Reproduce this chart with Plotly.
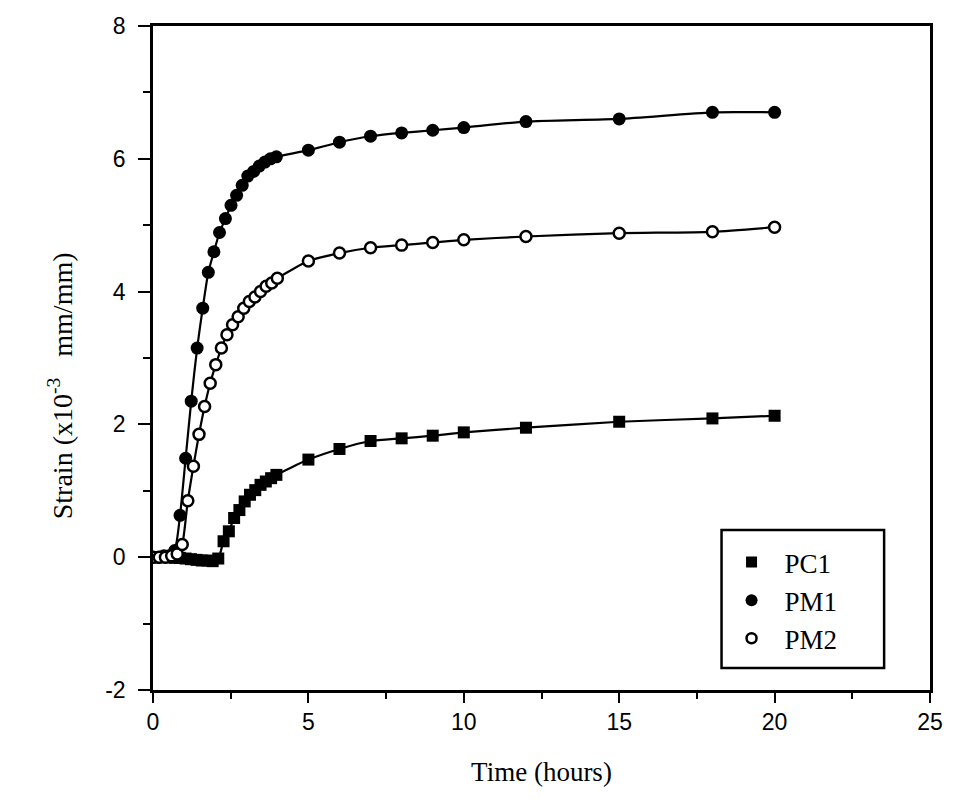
import plotly.graph_objects as go

# ---- data ----
pc1_t = [0, 0.17, 0.35, 0.52, 0.7, 0.87, 1.05, 1.22, 1.4, 1.57, 1.75, 1.92,
         2.1, 2.27, 2.44, 2.61, 2.78, 2.95, 3.12, 3.29, 3.46, 3.63, 3.8, 3.97,
         5, 6, 7, 8, 9, 10, 12, 15, 18, 20]
pc1_y = [0, 0.0, 0.0, 0.0, -0.01, -0.01, -0.02, -0.03, -0.04, -0.05, -0.05, -0.06,
         -0.02, 0.24, 0.39, 0.59, 0.71, 0.84, 0.94, 1.01, 1.09, 1.14, 1.19, 1.24,
         1.47, 1.63, 1.75, 1.79, 1.83, 1.88, 1.95, 2.04, 2.09, 2.13]

pm1_t = [0, 0.17, 0.35, 0.52, 0.7,
         0.87, 1.05, 1.23, 1.42, 1.6, 1.78, 1.96, 2.14, 2.33, 2.51, 2.69, 2.87,
         3.05, 3.24, 3.42, 3.6, 3.78, 3.97,
         5, 6, 7, 8, 9, 10, 12, 15, 18, 20]
pm1_y = [0, 0.0, 0.02, 0.02, 0.1,
         0.63, 1.49, 2.35, 3.15, 3.75, 4.29, 4.6, 4.89, 5.1, 5.3, 5.45, 5.6,
         5.74, 5.81, 5.89, 5.95, 6.0, 6.03,
         6.13, 6.25, 6.34, 6.39, 6.43, 6.47, 6.56, 6.6, 6.7, 6.7]

pm2_t = [0, 0.2, 0.4, 0.6, 0.78,
         0.94, 1.12, 1.3, 1.48, 1.66, 1.84, 2.02, 2.2, 2.38, 2.56, 2.74, 2.92,
         3.1, 3.28, 3.46, 3.64, 3.82, 4.0,
         5, 6, 7, 8, 9, 10, 12, 15, 18, 20]
pm2_y = [0, 0.0, 0.0, 0.02, 0.05,
         0.19, 0.85, 1.37, 1.85, 2.27, 2.62, 2.9, 3.15, 3.35, 3.5, 3.62, 3.75,
         3.85, 3.92, 4.0, 4.08, 4.13, 4.2,
         4.46, 4.58, 4.66, 4.7, 4.74, 4.78, 4.83, 4.88, 4.9, 4.97]

series_names = ["PC1", "PM1", "PM2"]
x_ticks = [0, 5, 10, 15, 20, 25]
x_tick_text = ["0", "5", "10", "15", "20", "25"]
y_ticks = [-2, 0, 2, 4, 6, 8]
y_tick_text = ["-2", "0", "2", "4", "6", "8"]

fig = go.Figure()

line_style = dict(color="black", width=2.2, shape="spline", smoothing=0.6)

fig.add_trace(go.Scatter(x=pc1_t, y=pc1_y, mode="lines+markers", line=line_style,
                         marker=dict(symbol="square", size=12, color="black"),
                         showlegend=False))
fig.add_trace(go.Scatter(x=pm1_t, y=pm1_y, mode="lines+markers", line=line_style,
                         marker=dict(symbol="circle", size=13, color="black"),
                         showlegend=False))
fig.add_trace(go.Scatter(x=pm2_t, y=pm2_y, mode="lines+markers", line=line_style,
                         marker=dict(symbol="circle", size=11, color="white",
                                     line=dict(color="black", width=2.5)),
                         showlegend=False))

# legend entries (no lines)
leg_markers = [dict(symbol="square", size=11, color="black"),
               dict(symbol="circle", size=12, color="black"),
               dict(symbol="circle", size=10, color="white", line=dict(color="black", width=2.5))]
for name, mk in zip(series_names, leg_markers):
    fig.add_trace(go.Scatter(x=[None], y=[None], mode="markers", name=name, marker=mk))

axis_common = dict(
    showline=True, linecolor="black", linewidth=2.5, mirror=True,
    ticks="outside", tickcolor="black", tickwidth=2,
    showgrid=False, zeroline=False,
    tickfont=dict(family="Liberation Sans, Arial", size=23, color="black"),
)

fig.update_xaxes(range=[0, 25], tickvals=x_ticks, ticktext=x_tick_text, ticklen=10,
                 minor=dict(dtick=2.5, tick0=0, ticklen=6, tickwidth=2, tickcolor="black", ticks="outside"),
                 title=dict(text="Time (hours)", font=dict(family="Liberation Serif, Times New Roman", size=27, color="black"),
                            standoff=28),
                 **axis_common)
fig.update_yaxes(range=[-2, 8], tickvals=y_ticks, ticktext=y_tick_text, ticklen=12,
                 ticklabelstandoff=8,
                 minor=dict(dtick=1, tick0=0, ticklen=7, tickwidth=2, tickcolor="black", ticks="outside"),
                 **axis_common)

# plot area in pixels: x 153..932, y 26..690
PX0, PX1, PY0, PY1 = 153, 932, 26, 690
def px(x):
    return (x - PX0) / (PX1 - PX0)
def py(y):
    return (PY1 - y) / (PY1 - PY0)

fig.add_annotation(text="Strain (x10<sup>-3</sup> \u00a0\u00a0mm/mm)", textangle=-90,
                   xref="paper", yref="paper", x=px(60), y=py(386),
                   xanchor="center", yanchor="middle", showarrow=False,
                   font=dict(family="Liberation Serif, Times New Roman", size=28, color="black"))

# legend frame
fig.add_shape(type="rect", xref="paper", yref="paper",
              x0=px(723), x1=px(886), y0=py(668), y1=py(530),
              line=dict(color="black", width=2.5), fillcolor="white", layer="below")

fig.update_layout(
    width=955, height=802,
    margin=dict(l=153, r=23, t=26, b=112),
    plot_bgcolor="white", paper_bgcolor="white",
    legend=dict(x=px(720), y=py(538), xanchor="left", yanchor="top",
                borderwidth=0, bgcolor="rgba(0,0,0,0)",
                font=dict(family="Liberation Serif, Times New Roman", size=27, color="black"),
                itemsizing="trace", itemwidth=56, tracegroupgap=0),
)

fig.write_html("out.html")
